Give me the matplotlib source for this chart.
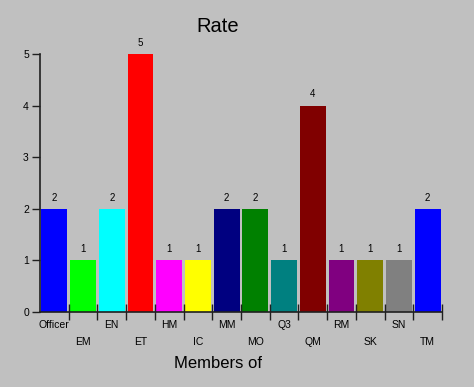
import matplotlib
matplotlib.use('Agg')
import matplotlib.pyplot as plt
import numpy as np

members = ['Officer', 'EM', 'EN', 'ET', 'HM', 'IC', 'MM', 'MO',
           'Q3', 'QM', 'RM', 'SK', 'SN', 'TM']
counts = [2, 1, 2, 5, 1, 1, 2, 2, 1, 4, 1, 1, 1, 2]
colors = ['#0000ff', '#00ff00', '#00ffff', '#ff0000', '#ff00ff', '#ffff00',
          '#000080', '#008000', '#008080', '#800000', '#800080', '#808000',
          '#808080', '#0000ff']

BG = '#c0c0c0'
plt.rcParams['font.family'] = ['Liberation Sans', 'DejaVu Sans']

fig = plt.figure(figsize=(4.74, 3.87), dpi=100, facecolor=BG)
ax = fig.add_axes([40 / 474, 1 - 312 / 387, 402 / 474, 258 / 387])
ax.set_facecolor(BG)

x = np.arange(len(members))
ax.bar(x, counts, width=0.9, color=colors, edgecolor='none')
for xi, c in zip(x, counts):
    ax.text(xi, c + 0.12, str(c), ha='center', va='bottom', fontsize=7)

ax.set_xlim(-0.5, len(members) - 0.5)
ax.set_ylim(0, 5)

for side in ['top', 'right']:
    ax.spines[side].set_visible(False)
for side in ['left', 'bottom']:
    ax.spines[side].set_color('#202020')
    ax.spines[side].set_linewidth(1.2)

ax.set_yticks(range(6))
ax.tick_params(axis='y', direction='out', length=6, width=1, color='#202020',
               labelsize=7.5, pad=2)

# boundaries as major ticks, names as minor ticks
ax.set_xticks(np.arange(0.5, len(members), 1.0))
ax.set_xticklabels([])
ax.tick_params(axis='x', which='major', direction='inout', length=11, width=1,
               color='#202020')
ax.set_xticks(x, minor=True)
ax.set_xticklabels(members, minor=True)
ax.tick_params(axis='x', which='minor', length=0, labelsize=7.5)
for i, t in enumerate(ax.xaxis.get_minor_ticks()):
    t.set_pad(6 if i % 2 == 0 else 18)

fig.text(218 / 474, 1 - 26 / 387, 'Rate', ha='center', va='center', fontsize=14.5)
fig.text(218 / 474, 1 - 364 / 387, 'Members of', ha='center', va='center', fontsize=12)

fig.savefig('out.png', dpi=100, facecolor=BG)
